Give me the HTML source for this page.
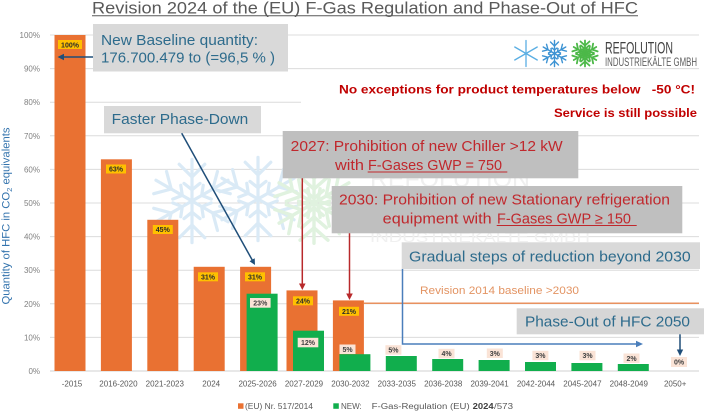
<!DOCTYPE html>
<html><head><meta charset="utf-8"><style>
html,body{margin:0;padding:0;background:#fff;}
svg{display:block;}
text{font-family:"Liberation Sans","DejaVu Sans",sans-serif;}
</style></head><body>
<svg width="708" height="411" viewBox="0 0 708 411" xmlns="http://www.w3.org/2000/svg">
<defs>
  <g id="spA"><line x1="0" y1="0" x2="0" y2="-13"/></g>
  <g id="spB"><line x1="0" y1="0" x2="0" y2="-13"/><polyline points="-4,-11.5 0,-7.5 4,-11.5" fill="none"/><polyline points="-2.5,-5.5 0,-3.5 2.5,-5.5" fill="none"/></g>
  <g id="spC"><line x1="0" y1="0" x2="0" y2="-13"/><polyline points="-4.5,-12 0,-8 4.5,-12" fill="none"/><polyline points="-4,-8 0,-4.5 4,-8" fill="none"/><polyline points="-3,-4 0,-1.5 3,-4" fill="none"/></g>
  <g id="flakeA"><use href="#spA"/><use href="#spA" transform="rotate(60)"/><use href="#spA" transform="rotate(120)"/><use href="#spA" transform="rotate(180)"/><use href="#spA" transform="rotate(240)"/><use href="#spA" transform="rotate(300)"/></g>
  <g id="flakeB"><use href="#spB"/><use href="#spB" transform="rotate(60)"/><use href="#spB" transform="rotate(120)"/><use href="#spB" transform="rotate(180)"/><use href="#spB" transform="rotate(240)"/><use href="#spB" transform="rotate(300)"/></g>
  <g id="flakeC"><use href="#spC"/><use href="#spC" transform="rotate(60)"/><use href="#spC" transform="rotate(120)"/><use href="#spC" transform="rotate(180)"/><use href="#spC" transform="rotate(240)"/><use href="#spC" transform="rotate(300)"/></g>
</defs>

<!-- Title -->
<text x="92" y="13.5" font-size="17" fill="#595959" textLength="546" lengthAdjust="spacingAndGlyphs">Revision 2024 of the (EU) F-Gas Regulation and Phase-Out of HFC</text>
<line x1="92" y1="15.8" x2="638" y2="15.8" stroke="#595959" stroke-width="1"/>

<!-- gridlines -->
<g stroke="#DCDCDC" stroke-width="1">
  <line x1="50" y1="35" x2="699" y2="35"/>
  <line x1="50" y1="68.6" x2="699" y2="68.6"/>
  <line x1="50" y1="102.2" x2="699" y2="102.2"/>
  <line x1="50" y1="135.8" x2="699" y2="135.8"/>
  <line x1="50" y1="169.4" x2="699" y2="169.4"/>
  <line x1="50" y1="203" x2="699" y2="203"/>
  <line x1="50" y1="236.6" x2="699" y2="236.6"/>
  <line x1="50" y1="270.2" x2="699" y2="270.2"/>
  <line x1="50" y1="303.8" x2="699" y2="303.8"/>
  <line x1="50" y1="337.4" x2="699" y2="337.4"/>
  <line x1="50" y1="371" x2="699" y2="371" stroke="#D0D0D0"/>
</g>

<!-- watermark -->
<g stroke="#DAEAF6" stroke-width="1" fill="none" stroke-linecap="round">
  <use href="#flakeB" transform="translate(192,201) scale(3.2)"/>
  <use href="#flakeB" transform="translate(258,199) scale(3.2)"/>
</g>
<g stroke="#E0F2DF" stroke-width="1.1" fill="none" stroke-linecap="round">
  <use href="#flakeC" transform="translate(314,203) scale(3.1)"/>
</g>
<text x="370" y="187" font-size="24" fill="#EFEFEF" textLength="160" lengthAdjust="spacingAndGlyphs">REFOLUTION</text>
<text x="370" y="242" font-size="14" fill="#F0F0F0" textLength="220" lengthAdjust="spacingAndGlyphs">INDUSTRIEKÄLTE GMBH</text>

<!-- white area behind red text -->
<rect x="301" y="74" width="404" height="52" fill="#fff"/>

<!-- Y axis labels -->
<g font-size="8" fill="#808080" text-anchor="end">
  <text x="40" y="38">100%</text>
  <text x="40" y="71.6">90%</text>
  <text x="40" y="105.2">80%</text>
  <text x="40" y="138.8">70%</text>
  <text x="40" y="172.4">60%</text>
  <text x="40" y="206">50%</text>
  <text x="40" y="239.6">40%</text>
  <text x="40" y="273.2">30%</text>
  <text x="40" y="306.8">20%</text>
  <text x="40" y="340.4">10%</text>
  <text x="40" y="374">0%</text>
</g>
<text transform="translate(9.5,216) rotate(-90)" font-size="11" fill="#3474AE" text-anchor="middle" textLength="177" lengthAdjust="spacingAndGlyphs">Quantity of HFC in CO<tspan font-size="7.5" dy="2.5">2</tspan><tspan dy="-2.5"> equivalents</tspan></text>

<!-- Orange bars -->
<g fill="#E97132">
  <rect x="54.5" y="35" width="31" height="336"/>
  <rect x="100.9" y="159.3" width="31" height="211.7"/>
  <rect x="147.3" y="219.8" width="31" height="151.2"/>
  <rect x="193.7" y="266.8" width="31" height="104.2"/>
  <rect x="240.1" y="266.8" width="31" height="104.2"/>
  <rect x="286.5" y="290.4" width="31" height="80.6"/>
  <rect x="332.9" y="300.4" width="31" height="70.6"/>
</g>
<!-- Green bars -->
<g fill="#11AE4D">
  <rect x="246.6" y="293.7" width="31" height="77.3"/>
  <rect x="293" y="330.7" width="31" height="40.3"/>
  <rect x="339.4" y="354.2" width="31" height="16.8"/>
  <rect x="385.8" y="356" width="31" height="15"/>
  <rect x="432.2" y="359" width="31" height="12"/>
  <rect x="478.6" y="360" width="31" height="11"/>
  <rect x="525" y="362" width="31" height="9"/>
  <rect x="571.4" y="363" width="31" height="8"/>
  <rect x="617.8" y="364" width="31" height="7"/>
</g>

<!-- Revision 2014 baseline line -->
<line x1="364" y1="303.3" x2="699" y2="303.3" stroke="#E8915F" stroke-width="1.5"/>
<text x="420" y="294" font-size="11" fill="#E39463" textLength="159" lengthAdjust="spacingAndGlyphs">Revision 2014 baseline &gt;2030</text>

<!-- yellow labels -->
<g fill="#FFC000">
  <rect x="58" y="40" width="24" height="9"/>
  <rect x="106" y="164.5" width="20" height="9"/>
  <rect x="152.8" y="225" width="20" height="9"/>
  <rect x="198" y="272.3" width="20" height="9"/>
  <rect x="245" y="272.3" width="20" height="9"/>
  <rect x="293" y="296.3" width="20" height="9"/>
  <rect x="339" y="306.8" width="20" height="9"/>
</g>
<g font-size="7" font-weight="bold" fill="#2B2B2B" text-anchor="middle">
  <text x="70" y="47.3">100%</text>
  <text x="116" y="171.6">63%</text>
  <text x="162.8" y="232.1">45%</text>
  <text x="208" y="279.4">31%</text>
  <text x="255" y="279.4">31%</text>
  <text x="303" y="303.4">24%</text>
  <text x="349" y="313.9">21%</text>
</g>
<!-- peach labels -->
<g fill="#FAE3D6">
  <rect x="250" y="298" width="20.6" height="9.7"/>
  <rect x="297.7" y="337.8" width="20.6" height="9.5"/>
  <rect x="339.5" y="344.5" width="16" height="9.5"/>
  <rect x="385.4" y="345.2" width="16" height="9.5"/>
  <rect x="438.5" y="348.8" width="16" height="9.5"/>
  <rect x="486.8" y="348.5" width="16" height="9.5"/>
  <rect x="532.4" y="350.8" width="16" height="9.5"/>
  <rect x="579.5" y="350.8" width="16" height="9.5"/>
  <rect x="623.5" y="353.5" width="16" height="9.5"/>
  <rect x="671" y="357" width="16" height="10"/>
</g>
<g font-size="7" font-weight="bold" fill="#404040" text-anchor="middle">
  <text x="260.3" y="305.5">23%</text>
  <text x="308" y="345.2">12%</text>
  <text x="347.5" y="352">5%</text>
  <text x="393.4" y="352.7">5%</text>
  <text x="446.5" y="356.2">4%</text>
  <text x="494.8" y="355.9">3%</text>
  <text x="540.4" y="358.2">3%</text>
  <text x="587.5" y="358.2">3%</text>
  <text x="631.5" y="360.9">2%</text>
  <text x="679" y="364.7">0%</text>
</g>

<!-- X labels -->
<g font-size="8" fill="#595959" text-anchor="middle">
  <text x="72" y="386.5">-2015</text>
  <text x="118.4" y="386.5">2016-2020</text>
  <text x="164.8" y="386.5">2021-2023</text>
  <text x="211.2" y="386.5">2024</text>
  <text x="257.6" y="386.5">2025-2026</text>
  <text x="304" y="386.5">2027-2029</text>
  <text x="350.4" y="386.5">2030-2032</text>
  <text x="396.8" y="386.5">2033-2035</text>
  <text x="443.2" y="386.5">2036-2038</text>
  <text x="489.6" y="386.5">2039-2041</text>
  <text x="536" y="386.5">2042-2044</text>
  <text x="582.4" y="386.5">2045-2047</text>
  <text x="628.8" y="386.5">2048-2049</text>
  <text x="675.2" y="386.5">2050+</text>
</g>

<!-- Legend -->
<rect x="238" y="403.3" width="5.5" height="5.5" fill="#E97132"/>
<text x="245" y="409" font-size="8" fill="#595959" textLength="68" lengthAdjust="spacingAndGlyphs">(EU) Nr. 517/2014</text>
<rect x="333.3" y="403.3" width="5.5" height="5.5" fill="#11AE4D"/>
<text x="341" y="409" font-size="8" fill="#595959">NEW:</text>
<text x="371.7" y="409" font-size="8" fill="#595959" textLength="98" lengthAdjust="spacingAndGlyphs">F-Gas-Regulation (EU)</text>
<text x="472.7" y="409" font-size="8" font-weight="bold" fill="#404040" textLength="21" lengthAdjust="spacingAndGlyphs">2024</text>
<text x="494" y="409" font-size="8" fill="#595959" textLength="19" lengthAdjust="spacingAndGlyphs">/573</text>

<!-- Logo -->
<g stroke="#5AAEE3" stroke-width="1.3" fill="none" stroke-linecap="round">
  <use href="#flakeA" transform="translate(526,53.5)"/>
</g>
<g stroke="#3D93D3" stroke-width="1.4" fill="none" stroke-linecap="round">
  <use href="#flakeB" transform="translate(554.5,53.5)"/>
</g>
<g stroke="#4CB848" stroke-width="1.8" fill="none" stroke-linecap="round">
  <use href="#flakeC" transform="translate(585,53.5)"/>
</g>
<text x="605" y="53.3" font-size="17" fill="#404040" textLength="68" lengthAdjust="spacingAndGlyphs">REFOLUTION</text>
<text x="605" y="66" font-size="12" fill="#5E5E5E" textLength="92" lengthAdjust="spacingAndGlyphs">INDUSTRIEKÄLTE GMBH</text>

<!-- Red notes -->
<text x="339" y="93.5" font-size="12" font-weight="bold" fill="#C00000" textLength="356" lengthAdjust="spacingAndGlyphs">No exceptions for product temperatures below&#160;&#160; -50 °C!</text>
<text x="554" y="117" font-size="12" font-weight="bold" fill="#C00000" textLength="143" lengthAdjust="spacingAndGlyphs">Service is still possible</text>

<!-- Callout: New Baseline -->
<rect x="93" y="24" width="195" height="47.5" fill="#D9D9D9"/>
<text x="101" y="45" font-size="15" fill="#2D6B8C" textLength="157" lengthAdjust="spacingAndGlyphs">New Baseline quantity:</text>
<text x="101" y="62.5" font-size="15" fill="#2D6B8C" textLength="174" lengthAdjust="spacingAndGlyphs">176.700.479 to (=96,5 % )</text>
<line x1="93" y1="57" x2="62" y2="57" stroke="#1F4E79" stroke-width="1.5"/>
<polygon points="57.5,57 64,53.8 64,60.2" fill="#1F4E79"/>

<!-- Callout: Faster Phase-Down -->
<rect x="104" y="106" width="157" height="27.3" fill="#D9D9D9"/>
<text x="111.7" y="124" font-size="15" fill="#2D6B8C" textLength="136.6" lengthAdjust="spacingAndGlyphs">Faster Phase-Down</text>
<line x1="181.7" y1="133.3" x2="252.5" y2="260.5" stroke="#1F4E79" stroke-width="1.5"/>
<polygon points="255,265 249.5,261.3 254.7,258.3" fill="#1F4E79"/>

<!-- Red arrows -->
<line x1="302.3" y1="178" x2="302.3" y2="284" stroke="#B8292B" stroke-width="1.5"/>
<polygon points="302.3,290 299,283.5 305.6,283.5" fill="#B8292B"/>
<line x1="349.5" y1="233" x2="349.5" y2="294" stroke="#B8292B" stroke-width="1.5"/>
<polygon points="349.5,300 346.2,293.5 352.8,293.5" fill="#B8292B"/>

<!-- Callout: 2027 -->
<rect x="282.7" y="131" width="295.6" height="47.3" fill="#BFBFBF"/>
<text x="290.7" y="151" font-size="15" fill="#C0282D" textLength="272" lengthAdjust="spacingAndGlyphs">2027: Prohibition of new Chiller &gt;12 kW</text>
<text x="335" y="170" font-size="15" fill="#C0282D" textLength="29" lengthAdjust="spacingAndGlyphs">with</text>
<text x="368" y="170" font-size="15" fill="#C0282D" textLength="134" lengthAdjust="spacingAndGlyphs">F-Gases GWP = 750</text>
<line x1="367.7" y1="172" x2="507.3" y2="172" stroke="#C0282D" stroke-width="1"/>

<!-- Callout: 2030 -->
<rect x="331.7" y="186" width="350.6" height="47.3" fill="#BFBFBF"/>
<text x="339" y="204.5" font-size="15" fill="#C0282D" textLength="331" lengthAdjust="spacingAndGlyphs">2030: Prohibition of new Stationary refrigeration</text>
<text x="382.7" y="223.5" font-size="15" fill="#C0282D" textLength="109" lengthAdjust="spacingAndGlyphs">equipment with</text>
<text x="497" y="223.5" font-size="15" fill="#C0282D" textLength="134" lengthAdjust="spacingAndGlyphs">F-Gases GWP ≥ 150</text>
<line x1="496.7" y1="225.5" x2="636.7" y2="225.5" stroke="#C0282D" stroke-width="1"/>

<!-- Callout: Gradual -->
<rect x="401.7" y="242.3" width="298.3" height="26.7" fill="#D9D9D9"/>
<text x="409" y="261.7" font-size="15" fill="#2D6B8C" textLength="281.7" lengthAdjust="spacingAndGlyphs">Gradual steps of reduction beyond 2030</text>
<polyline points="402.5,269 402.5,344 637,344" fill="none" stroke="#4A7EBB" stroke-width="1.5"/>
<polygon points="643,344 636,340.7 636,347.3" fill="#4A7EBB"/>

<!-- Callout: Phase-Out -->
<rect x="516.7" y="308.3" width="187.3" height="26" fill="#D6D6D6"/>
<text x="525" y="326.5" font-size="15" fill="#2D6B8C" textLength="165" lengthAdjust="spacingAndGlyphs">Phase-Out of HFC 2050</text>
<line x1="680" y1="334.3" x2="680" y2="350" stroke="#1F4E79" stroke-width="1.5"/>
<polygon points="680,356 676.8,349.5 683.2,349.5" fill="#1F4E79"/>
</svg>
</body></html>
